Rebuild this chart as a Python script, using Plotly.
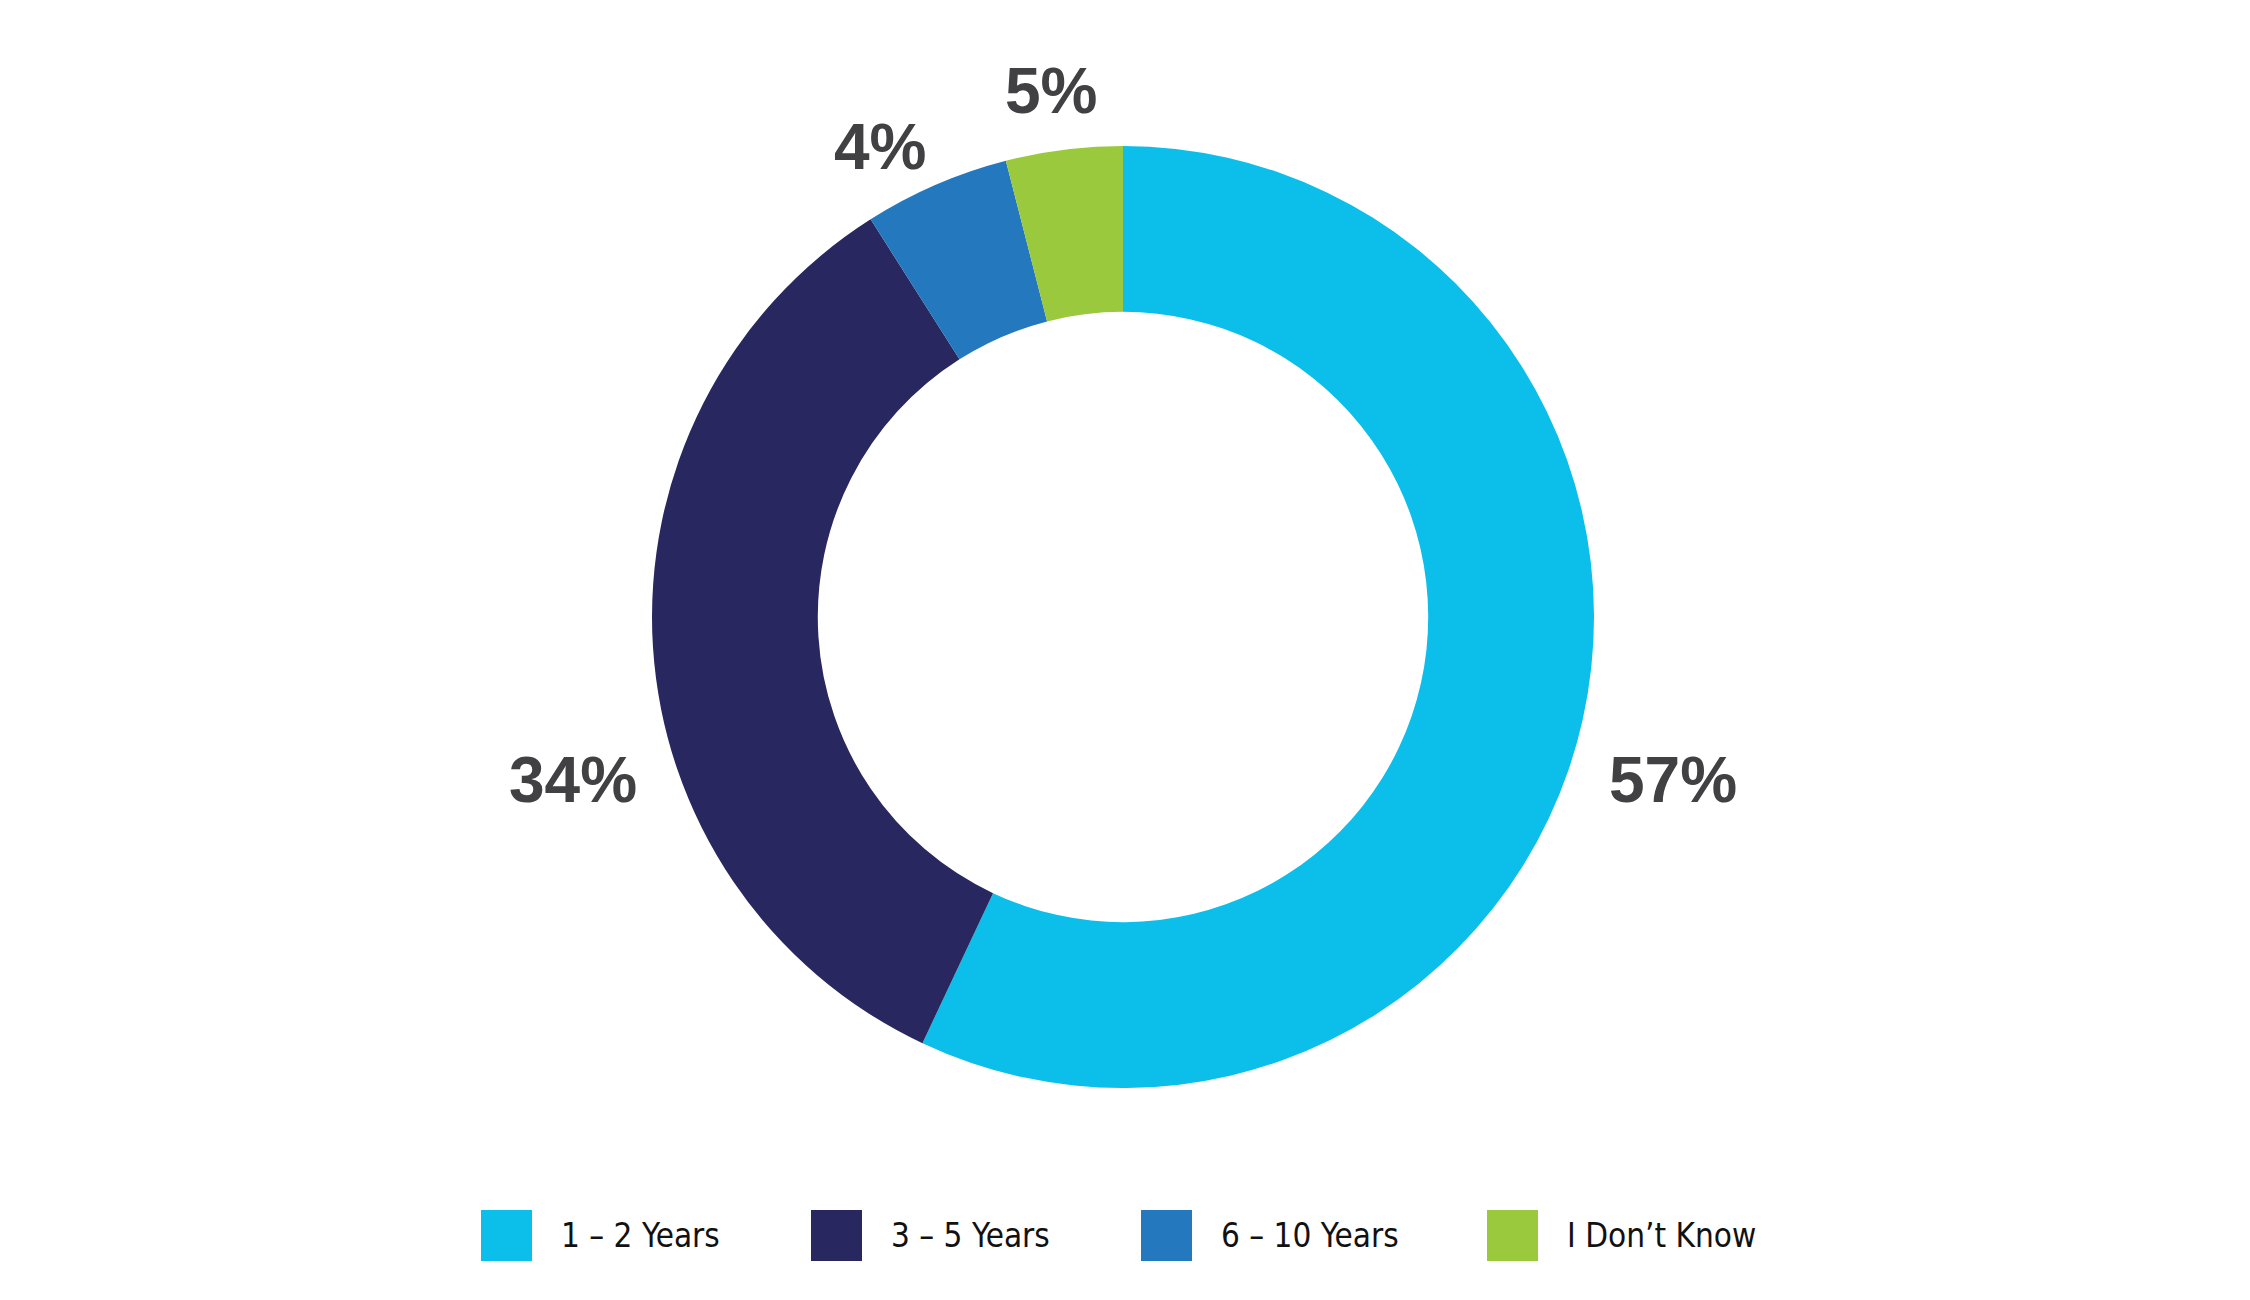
import plotly.graph_objects as go

# ---- data ----
categories = ["1 – 2 Years", "3 – 5 Years", "6 – 10 Years", "I Don’t Know"]
values = [57, 34, 5, 4]                    # slice sizes as drawn
value_labels = ["57%", "34%", "4%", "5%"]  # labels as printed
colors = ["#0BBFEA", "#28275F", "#2478BE", "#9BC93E"]

# ---- layout / style (pixel geometry) ----
W, H = 2250, 1300
cx, cy, r = 1123, 617, 471
label_pos = [(1673, 780), (573, 780), (880, 147), (1051, 91)]
legend_x = [481, 811, 1141, 1487]
sw = 51
ly_top = 1210

fig = go.Figure()
fig.add_trace(go.Pie(
    labels=categories,
    values=values,
    textinfo="none",
    sort=False,
    direction="clockwise",
    rotation=0,
    hole=0.648,
    marker=dict(colors=colors, line=dict(width=0)),
    showlegend=False,
    text=value_labels,
    hoverinfo="label+text",
    domain=dict(x=[(cx - r) / W, (cx + r) / W], y=[(H - cy - r) / H, (H - cy + r) / H]),
))

shapes = []
annotations = []
# value labels
for txt, (px, py) in zip(value_labels, label_pos):
    annotations.append(dict(text=txt, xref="paper", yref="paper",
                            x=px / W, y=(H - py) / H, xanchor="center", yanchor="middle",
                            showarrow=False,
                            font=dict(family="Liberation Sans, Arial, sans-serif", size=64,
                                      weight="bold", color="#414042")))
# manual legend (large square swatches)
for cat, col, x0 in zip(categories, colors, legend_x):
    shapes.append(dict(type="rect", xref="paper", yref="paper",
                       x0=x0 / W, x1=(x0 + sw) / W,
                       y0=(H - ly_top - sw) / H, y1=(H - ly_top) / H,
                       fillcolor=col, line=dict(width=0)))
    annotations.append(dict(text=cat, xref="paper", yref="paper",
                            x=(x0 + sw + 27) / W, y=(H - ly_top - sw / 2) / H,
                            xanchor="left", yanchor="middle", showarrow=False,
                            font=dict(family="Liberation Sans Narrow, DejaVu Sans Condensed, Arial Narrow, sans-serif",
                                      size=33, color="#111111")))

fig.update_layout(
    width=W, height=H,
    margin=dict(l=0, r=0, t=0, b=0),
    paper_bgcolor="white", plot_bgcolor="white",
    shapes=shapes, annotations=annotations,
)

fig.write_html("out.html", config={"displayModeBar": False},
               post_script="document.body.style.margin='0';")
